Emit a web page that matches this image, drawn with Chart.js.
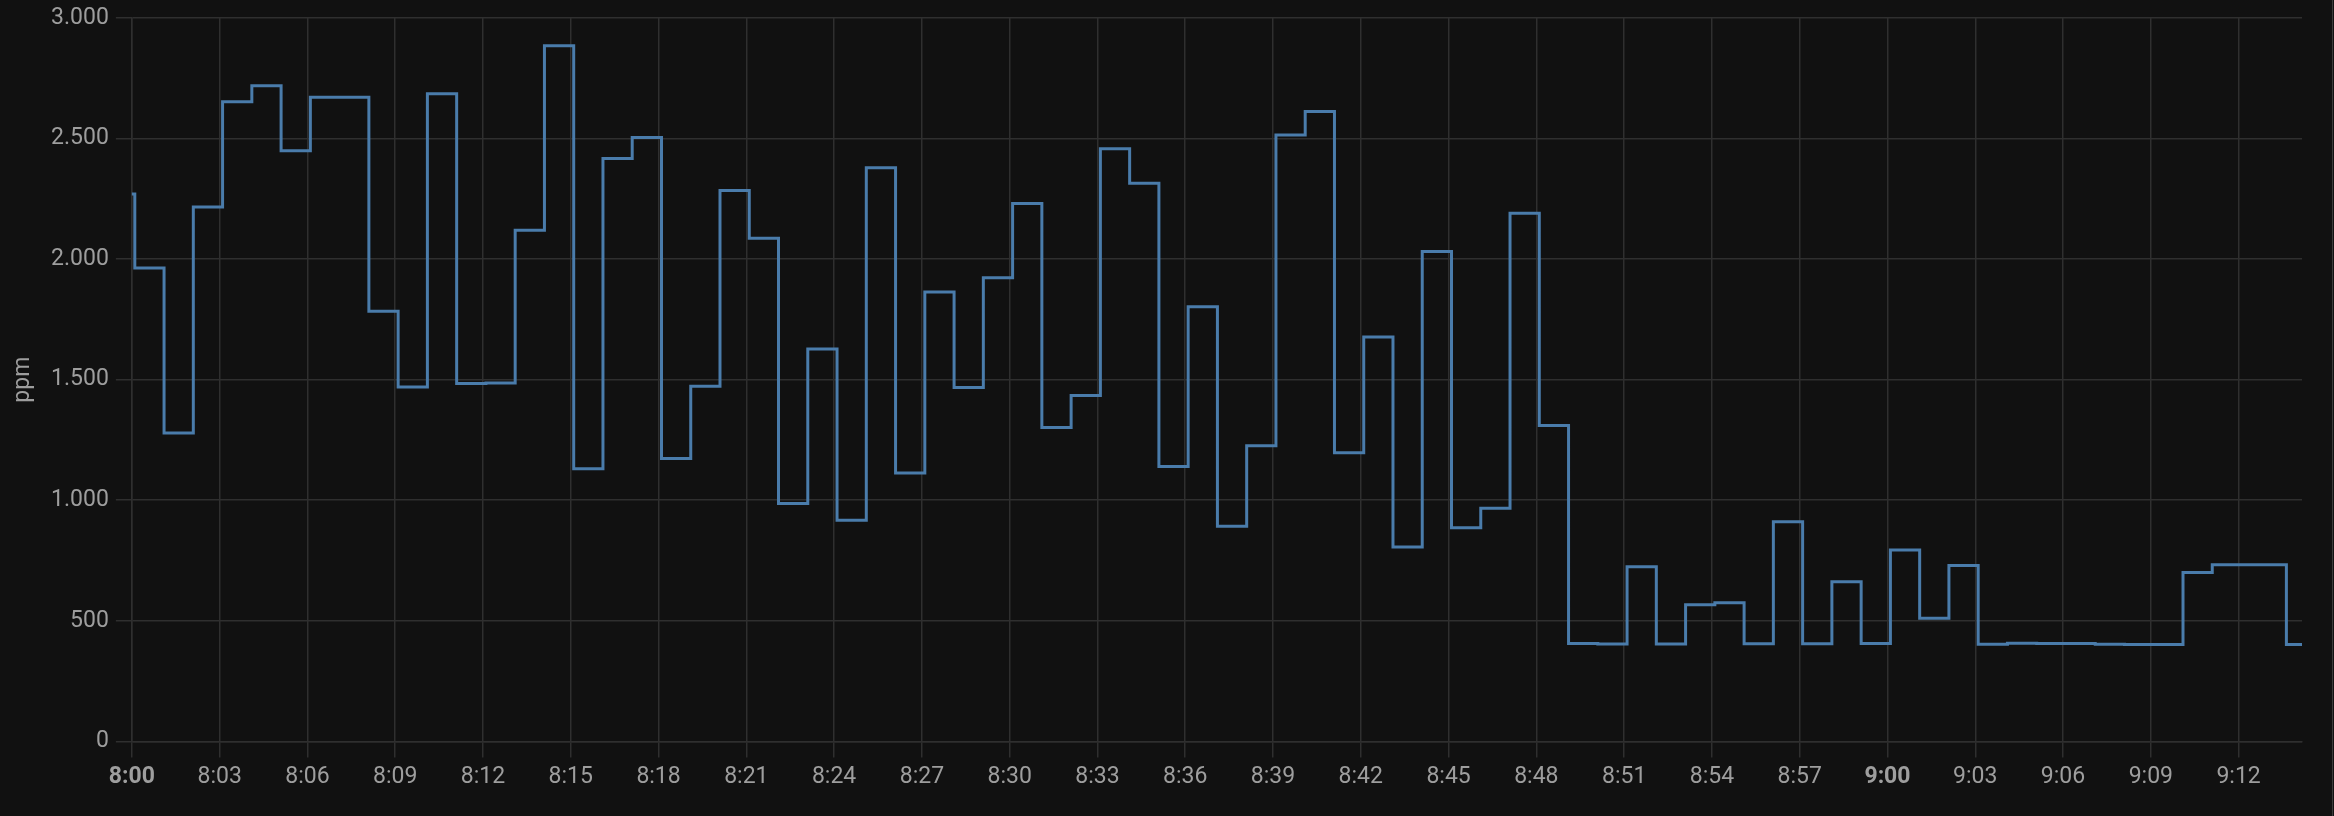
<!DOCTYPE html>
<html>
<head>
<meta charset="utf-8">
<script src="https://cdn.jsdelivr.net/npm/chart.js@4"></script>
<style>
  html, body { margin: 0; padding: 0; background: #111111; }
  #wrap { position: relative; width: 2334px; height: 816px; }
  #edge { position: absolute; top: 0; right: 1px; width: 1px; height: 816px; background: #3c3c3c; }
</style>
</head>
<body>
<div id="wrap">
  <canvas id="co2Chart"></canvas>
  <div id="edge"></div>
</div>
<script>
// sensor readings (ppm) with their timestamps
const times = [
  '7:59:06', '8:00:06', '8:01:06', '8:02:06', '8:03:06', '8:04:06', '8:05:06', '8:06:06', '8:07:06', '8:08:06',
  '8:09:06', '8:10:06', '8:11:06', '8:12:06', '8:13:06', '8:14:06', '8:15:06', '8:16:06', '8:17:06', '8:18:06',
  '8:19:06', '8:20:06', '8:21:06', '8:22:06', '8:23:06', '8:24:06', '8:25:06', '8:26:06', '8:27:06', '8:28:06',
  '8:29:06', '8:30:06', '8:31:06', '8:32:06', '8:33:06', '8:34:06', '8:35:06', '8:36:06', '8:37:06', '8:38:06',
  '8:39:06', '8:40:06', '8:41:06', '8:42:06', '8:43:06', '8:44:06', '8:45:06', '8:46:06', '8:47:06', '8:48:06',
  '8:49:06', '8:50:06', '8:51:06', '8:52:06', '8:53:06', '8:54:06', '8:55:06', '8:56:06', '8:57:06', '8:58:06',
  '8:59:06', '9:00:06', '9:01:06', '9:02:06', '9:03:06', '9:04:06', '9:05:06', '9:06:06', '9:07:06', '9:08:06',
  '9:09:06', '9:10:06', '9:11:06', '9:12:06', '9:13:06', '9:13:38', '9:14:10'
];
const ppm = [
  2270, 1963, 1279, 2216, 2652, 2719, 2449, 2671, 2671, 1784,
  1470, 2686, 1484, 1486, 2120, 2885, 1131, 2417, 2504, 1173,
  1473, 2284, 2086, 987, 1627, 917, 2379, 1113, 1864, 1467,
  1923, 2230, 1302, 1434, 2457, 2314, 1140, 1802, 892, 1226,
  2515, 2612, 1197, 1677, 806, 2031, 886, 967, 2190, 1310,
  406, 404, 724, 404, 567, 575, 405, 911, 405, 662,
  406, 794, 511, 729, 403, 407, 406, 406, 403, 402,
  402, 700, 732, 732, 732, 402, 408
];
const rangeStart = '8:00:00';
const rangeEnd = '9:14:10';

function toSec(t) {
    const [h, m, s] = t.split(':').map(Number);
    return h * 3600 + m * 60 + s;
}

function fmtTime(v) {
    const h = Math.floor(v / 3600);
    const m = Math.floor((v % 3600) / 60);
    return h + ':' + String(m).padStart(2, '0');
}

function fmtPpm(v) {
    return String(v).replace(/\B(?=(\d{3})+(?!\d))/g, '.');
}

const textColor = '#9e9e9e';
const gridColor = '#2f2f2f';

const ctx = document.getElementById('co2Chart').getContext('2d');
new Chart(ctx, {
    type: 'line',
    data: {
        datasets: [{
            label: 'ppm',
            data: times.map((t, i) => ({ x: toSec(t), y: ppm[i] })),
            borderColor: '#4a7cab',
            borderWidth: 3,
            pointRadius: 0,
            stepped: true,
            fill: false
        }]
    },
    options: {
        responsive: true,
        maintainAspectRatio: false,
        animation: false,
        layout: {
            padding: { left: 0, right: 32, top: 0, bottom: 19 }
        },
        plugins: {
            legend: { display: false },
            tooltip: { enabled: false }
        },
        scales: {
            x: {
                type: 'linear',
                min: toSec(rangeStart),
                max: toSec(rangeEnd),
                grid: { color: gridColor, tickLength: 16, lineWidth: 1.5 },
                border: { color: gridColor, width: 1.5 },
                ticks: {
                    stepSize: 180,
                    includeBounds: false,
                    autoSkip: false,
                    maxRotation: 0,
                    padding: 6,
                    color: textColor,
                    font: (c) => ({
                        family: 'Roboto',
                        size: 23,
                        weight: c.tick && c.tick.value % 3600 === 0 ? 'bold' : 'normal'
                    }),
                    callback: (v) => fmtTime(v)
                }
            },
            y: {
                min: 0,
                max: 3000,
                grid: { color: gridColor, tickLength: 16, lineWidth: 1.5 },
                border: { color: gridColor, width: 1.5 },
                title: {
                    display: true,
                    text: 'ppm',
                    color: textColor,
                    font: { family: 'Roboto', size: 23 },
                    padding: { top: 9, bottom: 7.5 }
                },
                ticks: {
                    stepSize: 500,
                    padding: 7,
                    color: textColor,
                    font: { family: 'Roboto', size: 23, lineHeight: 0.95 },
                    callback: (v) => fmtPpm(v)
                }
            }
        }
    }
});
</script>
</body>
</html>
